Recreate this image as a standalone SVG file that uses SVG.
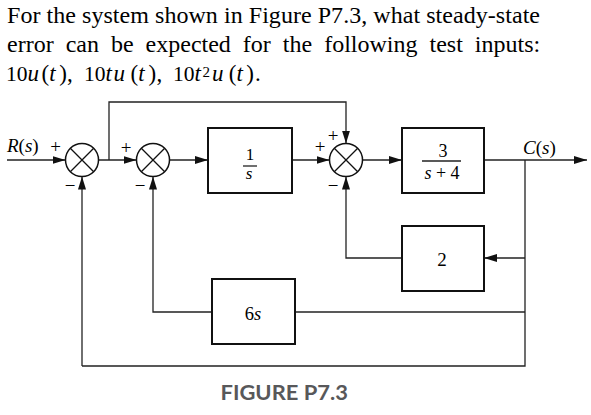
<svg xmlns="http://www.w3.org/2000/svg" width="591" height="415" viewBox="0 0 591 415">
<defs>
<marker id="ah" markerUnits="userSpaceOnUse" markerWidth="13" markerHeight="8" refX="13" refY="4" orient="auto">
<path d="M0,0 L13,4 L0,8 z" fill="#111"/>
</marker>
<style>
.ln{fill:none;stroke:#222;stroke-width:1.3}
.ar{fill:none;stroke:#222;stroke-width:1.3;marker-end:url(#ah)}
.bx{fill:#fff;stroke:#111;stroke-width:2}
.sj{fill:#fff;stroke:#111;stroke-width:1.5}
.x{stroke:#111;stroke-width:1.3}
.d{font-family:"Liberation Serif","Times New Roman",serif;font-size:19px;fill:#000}
.c{text-anchor:middle}
.i{font-style:italic}
.h{font-family:"Liberation Serif","Times New Roman",serif;font-size:24px;fill:#000}
.m{font-family:"Liberation Serif","Times New Roman",serif;font-size:23px;fill:#000}
.n{font-size:21.5px}
.fig{font-family:Lato,"Open Sans",sans-serif;font-weight:bold;font-size:21px;fill:#58585a}
</style>
</defs>
<rect width="591" height="415" fill="#fff"/>

<g id="question">
<text class="h" x="7" y="23" textLength="533" lengthAdjust="spacing">For the system shown in Figure P7.3, what steady-state</text>
<text class="h" x="7" y="52" word-spacing="6">error can be expected for the following test inputs:</text>
<text class="m" y="80.5" x="6 16.75 27.5 41.5 49.2 59.3 67"><tspan class="n">10</tspan><tspan class="i">u</tspan>(<tspan class="i">t</tspan>),</text>
<text class="m" y="80.5" x="84 94.75 105.5 113.5 130.5 138.3 148.5 156.5"><tspan class="n">10</tspan><tspan class="i">tu</tspan>(<tspan class="i">t</tspan>),</text>
<text class="m" y="80.5" x="173 183.75 194.5"><tspan class="n">10</tspan><tspan class="i">t</tspan></text>
<text class="m" y="76.5" x="202.5" style="font-size:15px">2</text>
<text class="m" y="80.5" x="212 228.8 236.5 246.2 255"><tspan class="i">u</tspan>(<tspan class="i">t</tspan>).</text>
</g>

<g id="connectors">
<path class="ar" d="M7,160 H65.5"/>
<path class="ar" d="M98.5,160 H136.5"/>
<path class="ar" d="M109,160 V102 H346 V143.5"/>
<path class="ar" d="M169.5,160 H208"/>
<path class="ar" d="M292,160 H329.5"/>
<path class="ar" d="M362.5,160 H402"/>
<path class="ar" d="M484,160 H587"/>
<path class="ln" d="M525,160 V366 H82"/>
<path class="ar" d="M82,366 V176.5"/>
<path class="ar" d="M525,258 H484"/>
<path class="ar" d="M402,258 H346 V176.5"/>
<path class="ln" d="M525,312 H295"/>
<path class="ar" d="M212,312 H153 V176.5"/>
</g>

<g id="sum1">
<circle class="sj" cx="82" cy="160" r="16.5"/>
<path class="x" d="M70.3,148.3 L93.7,171.7 M93.7,148.3 L70.3,171.7"/>
<text class="d c" x="55.5" y="153">+</text>
<text class="d c" x="70" y="192">−</text>
</g>

<g id="sum2">
<circle class="sj" cx="153" cy="160" r="16.5"/>
<path class="x" d="M141.3,148.3 L164.7,171.7 M164.7,148.3 L141.3,171.7"/>
<text class="d c" x="126" y="154">+</text>
<text class="d c" x="140" y="192">−</text>
</g>

<g id="sum3">
<circle class="sj" cx="346" cy="160" r="16.5"/>
<path class="x" d="M334.3,148.3 L357.7,171.7 M357.7,148.3 L334.3,171.7"/>
<text class="d c" x="333" y="142">+</text>
<text class="d c" x="320" y="153">+</text>
<text class="d c" x="333" y="192">−</text>
</g>

<g id="block-integrator">
<rect class="bx" x="208" y="128" width="84" height="65"/>
<text class="d c" x="250" y="160" style="font-size:17px">1</text>
<path class="ln" d="M243,166 H257"/>
<text class="d c i" x="249" y="179" style="font-size:17px">s</text>
</g>

<g id="block-plant">
<rect class="bx" x="402" y="128" width="82" height="65"/>
<text class="d c" x="443" y="156.5" style="font-size:18px">3</text>
<path class="ln" d="M422,161 H461"/>
<text class="d c" x="442" y="178.5" style="font-size:18px"><tspan class="i">s</tspan> + 4</text>
</g>

<g id="block-gain2">
<rect class="bx" x="402" y="226" width="82" height="65"/>
<text class="d c" x="442" y="266" style="font-size:19px">2</text>
</g>

<g id="block-6s">
<rect class="bx" x="212" y="279" width="83" height="65"/>
<text class="d c" x="253" y="319.5" style="font-size:18.5px">6<tspan class="i">s</tspan></text>
</g>

<g id="labels">
<text class="d" x="7" y="152"><tspan class="i">R</tspan>(<tspan class="i">s</tspan>)</text>
<text class="d" x="523" y="154"><tspan class="i">C</tspan>(<tspan class="i">s</tspan>)</text>
<text class="fig" x="220.5" y="400" textLength="127.5" lengthAdjust="spacingAndGlyphs">FIGURE P7.3</text>
</g>
</svg>
